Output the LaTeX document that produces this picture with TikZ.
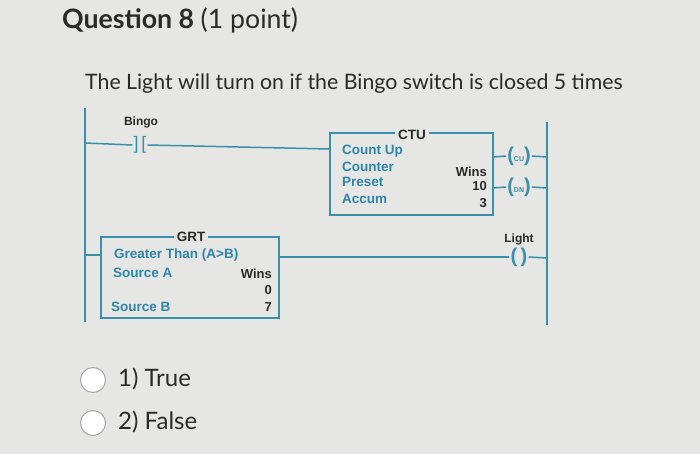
\documentclass[tikz,border=0pt]{standalone}
\usepackage{fontspec}
\setmainfont{Lato}
\newfontfamily\lad{Liberation Sans}
\definecolor{bg}{HTML}{E6E6E4}
\definecolor{rung}{HTML}{3A8FAA}
\definecolor{lbl}{HTML}{2E86A8}
\definecolor{txt}{HTML}{2A2A2A}
\begin{document}
\begin{tikzpicture}[x=1pt,y=-1pt,
  wire/.style={draw=rung,line width=1.5pt},
  ltxt/.style={font=\lad\bfseries\fontsize{13.5}{14}\selectfont,text=lbl,inner sep=0pt},
  vtxt/.style={font=\lad\bfseries\fontsize{13}{14}\selectfont,text=txt,inner sep=0pt,anchor=east},
  coil/.style={font=\lad\bfseries\fontsize{20}{20}\selectfont,text=rung,inner sep=1pt}]
\fill[bg] (0,0) rectangle (700,454);
\useasboundingbox (0,0) rectangle (700,454);
\node[anchor=west,font=\bfseries\fontsize{26.7}{28}\selectfont,text=txt,inner sep=0pt] (q) at (62,20) {Question 8 \mdseries(1 point)};
\node[anchor=west,font=\fontsize{21.3}{23}\selectfont,text=txt,inner sep=0pt] (stmt) at (85,84) {The Light will turn on if the Bingo switch is closed 5 times};
% rails
\coordinate (l1) at (85,108); \coordinate (l2) at (85,322);
\coordinate (r1) at (547,122); \coordinate (r2) at (547,325);
\draw[wire] (l1) -- (l2); \draw[wire] (r1) -- (r2);
% rung 1
\node[ltxt,text=txt,font=\lad\bfseries\fontsize{12}{12}\selectfont] (bingo) at (141,122) {Bingo};
\node[coil,font=\lad\fontsize{18}{18}\selectfont] (cont) at (140,145) {]\,[};
\draw[wire] (85,143) -- (cont.west);
\draw[wire] (cont.east) -- (330,149);
\draw[wire] (330,133) rectangle (493,215);
\node[ltxt,fill=bg,inner xsep=3pt,text=txt] (ctu) at (412,135) {CTU};
\node[ltxt,anchor=west] (cu) at (342,151) {Count Up};
\node[ltxt,anchor=west] (cn) at (342,167) {Counter};
\node[ltxt,anchor=west] (pr) at (342,182) {Preset};
\node[ltxt,anchor=west] (ac) at (342,199) {Accum};
\node[vtxt] (w1) at (487,172) {Wins};
\node[vtxt] (p10) at (487,186) {10};
\node[vtxt] (a3) at (487,203) {3};
\node[coil] (ccu) at (519,156) {(\fontsize{7}{7}\selectfont CU\fontsize{20}{20}\selectfont)};
\node[coil] (cdn) at (519,187) {(\fontsize{7}{7}\selectfont DN\fontsize{20}{20}\selectfont)};
\draw[wire] (493,157) -- (ccu.west); \draw[wire] (ccu.east) -- (547,157);
\draw[wire] (493,188) -- (cdn.west); \draw[wire] (cdn.east) -- (547,188);
% rung 2
\draw[wire] (101,237) rectangle (279,318);
\node[ltxt,fill=bg,inner xsep=3pt,text=txt] (grt) at (191,237) {GRT};
\node[ltxt,anchor=west] (gt) at (114,255) {Greater Than (A>B)};
\node[ltxt,anchor=west] (sa) at (113,273) {Source A};
\node[ltxt,anchor=west] (sb) at (111,307) {Source B};
\node[vtxt] (w2) at (272,274) {Wins};
\node[vtxt] (z) at (272,290) {0};
\node[vtxt] (s7) at (272,307) {7};
\draw[wire] (85,255) -- (101,255);
\node[ltxt,text=txt,font=\lad\bfseries\fontsize{12}{12}\selectfont] (lt) at (519,239) {Light};
\node[coil] (cl) at (519,257) {(\,)};
\draw[wire] (279,257) -- (cl.west); \draw[wire] (cl.east) -- (547,258);
% answers
\node[draw=gray!70,line width=1pt,fill=white,circle,minimum size=25pt] (o1) at (93,380) {};
\node[draw=gray!70,line width=1pt,fill=white,circle,minimum size=25pt] (o2) at (93,423) {};
\node[anchor=west,font=\fontsize{24}{26}\selectfont,text=txt,inner sep=0pt] (t1) at (118,379) {1) True};
\node[anchor=west,font=\fontsize{24}{26}\selectfont,text=txt,inner sep=0pt] (t2) at (118,422) {2) False};
\end{tikzpicture}
\end{document}
